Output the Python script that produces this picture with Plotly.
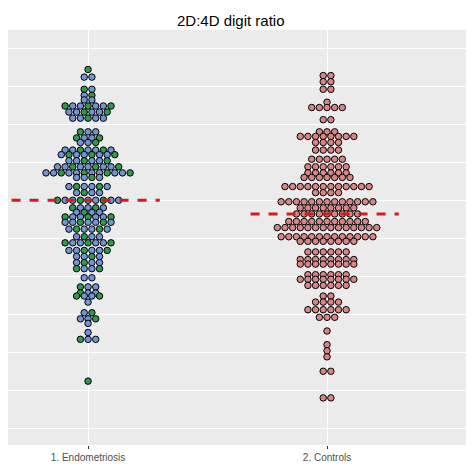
import plotly.graph_objects as go

# rows of the beeswarm: ratio value and number of points in that row
endo_vals = [1.036, 1.031, 1.023, 1.019, 1.016, 1.012, 1.008, 1.004, 0.995, 0.991,
             0.988, 0.983, 0.980, 0.976, 0.972, 0.968, 0.965, 0.959, 0.955, 0.950,
             0.945, 0.942, 0.939, 0.9355, 0.931, 0.926, 0.922, 0.917, 0.913, 0.909,
             0.905, 0.899, 0.893, 0.889, 0.887, 0.883, 0.876, 0.872, 0.869, 0.863,
             0.8585, 0.831]
endo_counts = [1, 2, 2, 2, 2, 7, 6, 5, 3, 4,
               3, 7, 8, 6, 9, 12, 4, 6, 4, 9,
               5, 4, 7, 7, 6, 4, 7, 6, 4, 4,
               4, 2, 3, 3, 4, 1, 2, 3, 1, 1,
               3, 1]
ctrl_vals = [1.032, 1.028, 1.023, 1.0145, 1.011, 1.003, 0.995, 0.992, 0.988, 0.983,
             0.977, 0.972, 0.968, 0.965, 0.959, 0.955, 0.949, 0.945, 0.941, 0.936,
             0.932, 0.926, 0.923, 0.916, 0.911, 0.908, 0.901, 0.898, 0.894, 0.887,
             0.883, 0.878, 0.873, 0.864, 0.855, 0.851, 0.847, 0.8375, 0.820]
ctrl_counts = [2, 2, 2, 1, 5, 2, 3, 8, 4, 4,
               5, 6, 6, 7, 12, 4, 13, 8, 9, 11,
               14, 13, 8, 6, 8, 8, 6, 8, 6, 2,
               4, 6, 3, 1, 1, 1, 1, 2, 2]
medians = [0.950, 0.941]
groups = ["1. Endometriosis", "2. Controls"]

step = 0.032  # horizontal spacing between dots in a row


def swarm(center, vals, counts):
    xs, ys = [], []
    for v, n in zip(vals, counts):
        for i in range(n):
            xs.append(center + (i - (n - 1) / 2) * step)
            ys.append(v)
    return xs, ys


fig = go.Figure()

ex, ey = swarm(1, endo_vals, endo_counts)
ecol = ["#7394d4" if (i * 7) % 3 else "#2f9a4c" for i in range(len(ex))]
fig.add_trace(go.Scatter(x=ex, y=ey, mode="markers",
                         marker=dict(size=6.5, color=ecol, line=dict(color="black", width=1))))

cx, cy = swarm(2, ctrl_vals, ctrl_counts)
fig.add_trace(go.Scatter(x=cx, y=cy, mode="markers",
                         marker=dict(size=6.5, color="#d98585", line=dict(color="black", width=1))))

for i, m in enumerate(medians):
    fig.add_trace(go.Scatter(x=[i + 1 - 0.32, i + 1 + 0.3], y=[m, m], mode="lines",
                             line=dict(color="#d7191c", width=3, dash="dash")))

fig.update_layout(
    width=474, height=474, showlegend=False,
    title=dict(text="2D:4D digit ratio", x=0.47, xanchor="center", y=0.985,
               font=dict(size=15, color="black", family="Liberation Sans")),
    plot_bgcolor="#ebebeb", paper_bgcolor="white",
    margin=dict(l=0, r=8, t=22, b=37),
)
fig.update_xaxes(range=[0.665, 2.615], tickvals=[1, 2], ticktext=groups,
                 showgrid=True, gridcolor="white", gridwidth=1.2, zeroline=False,
                 ticks="outside", ticklen=3, tickcolor="#333",
                 tickfont=dict(size=10, color="#4d4d4d", family="Liberation Sans"))
fig.update_yaxes(range=[0.789, 1.062], tick0=0.95, dtick=0.025, showticklabels=False,
                 showgrid=True, gridcolor="white", gridwidth=1.2, zeroline=False)

fig.write_html("out.html")
